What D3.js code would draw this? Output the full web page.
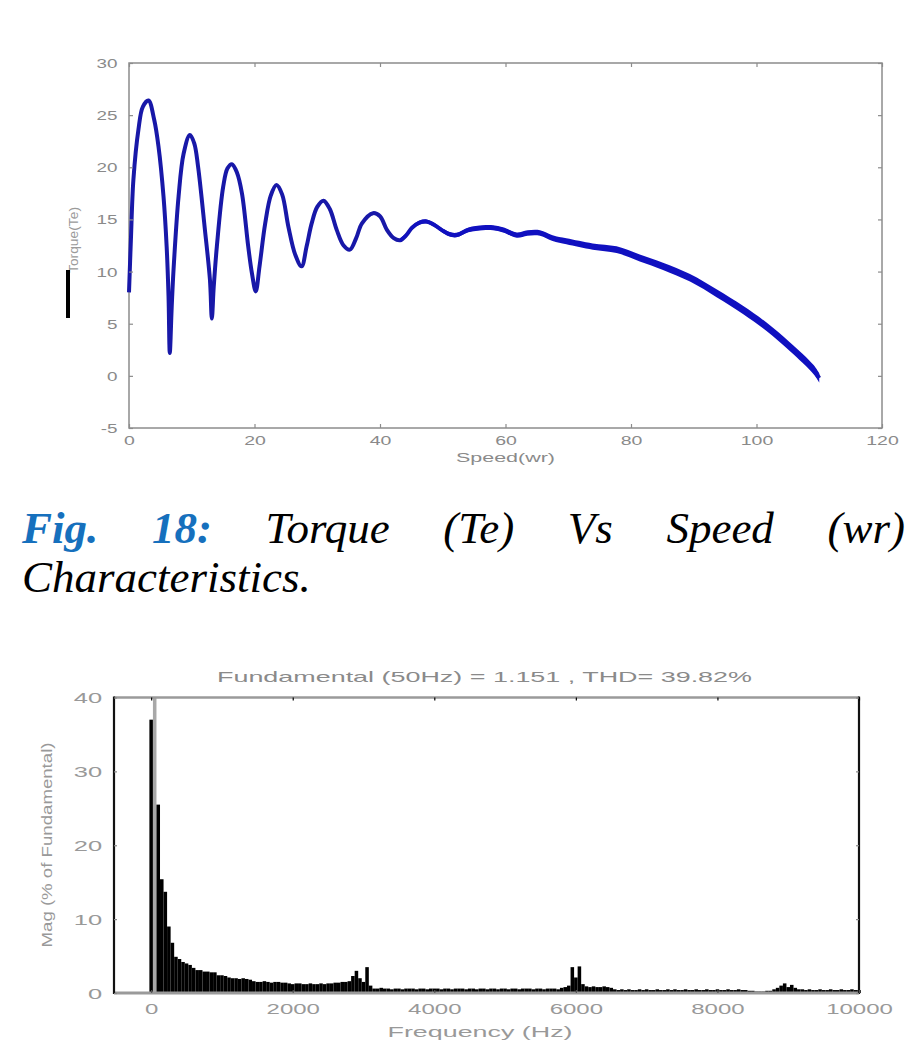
<!DOCTYPE html>
<html>
<head>
<meta charset="utf-8">
<script src="https://cdn.jsdelivr.net/npm/d3@7"></script>
<style>
  body { margin: 0; background: #fff; }
  svg text { font-family: "Liberation Sans", Arial, sans-serif; }
  svg text.cap { font-family: "Liberation Serif", "Times New Roman", serif; font-style: italic; }
</style>
</head>
<body>
<svg id="fig" width="915" height="1056"></svg>
<script>
// ---- torque vs speed ----
const speedVals = [0, 0.3, 0.7, 1.5, 2.2, 3.1, 4.0, 4.7, 5.5, 6.0, 6.3, 6.5, 6.8, 7.1, 7.9, 8.7, 9.7, 10.4,
  11.0, 12.1, 12.9, 13.2, 13.5, 14.0, 15.0, 15.7, 16.4, 17.2, 18.0, 19.0, 19.6, 20.2, 20.8, 21.7,
  22.6, 23.5, 24.4, 25.4, 26.5, 27.5, 28.3, 29.1, 30.0, 31.0, 32.0, 33.1, 34.2, 35.2, 36.2, 37.1,
  38.9, 40.0, 41.1, 42.2, 43.2, 44.2, 45.1, 46.3, 47.4, 48.6, 49.8, 51.0, 52.2, 54.1, 56.4, 58.0,
  59.6, 61.8, 63.5, 65.5, 67.5, 69.7, 73.9, 77.7, 81.4, 85.1, 89.4, 93.7, 97.9, 101.6, 105.3, 109.1, 110];
const torqueVals = [8.0, 13.0, 18.8, 23.6, 25.8, 26.4, 24.6, 22.0, 17.2, 12.4, 7.6, 2.2, 6.5, 10.2, 17.2, 21.3, 23.1, 22.3,
  20.1, 14.0, 9.2, 5.5, 8.5, 12.4, 18.1, 19.9, 20.3, 19.5, 17.5, 12.4, 9.8, 8.1, 10.5, 14.6,
  17.3, 18.3, 17.4, 14.3, 11.6, 10.5, 12.4, 14.6, 16.2, 16.8, 16.0, 14.0, 12.5, 12.1, 13.2, 14.6,
  15.6, 15.3, 14.0, 13.2, 13.0, 13.5, 14.2, 14.7, 14.8, 14.5, 14.0, 13.6, 13.5, 14.0, 14.2, 14.2,
  14.0, 13.5, 13.7, 13.7, 13.2, 12.9, 12.4, 12.1, 11.3, 10.5, 9.4, 7.9, 6.3, 4.7, 2.8, 0.6, -0.2];
const speedTicks = [0, 20, 40, 60, 80, 100, 120];
const torqueTicks = [-5, 0, 5, 10, 15, 20, 25, 30];

// ---- harmonic spectrum, one value per 50 Hz step (index = order) ----
const harmonicMag = [
  37, 100, 25.5, 15.4, 13.7, 9.0, 6.8, 4.9, 4.6, 4.2,
  4.0, 3.8, 3.4, 3.1, 3.1, 2.9, 2.9, 2.8, 2.8, 2.4,
  2.4, 2.3, 2.1, 2.0, 2.0, 1.9, 2.0, 1.9, 1.8, 1.6,
  1.5, 1.5, 1.6, 1.5, 1.4, 1.5, 1.5, 1.4, 1.4, 1.3,
  1.2, 1.3, 1.3, 1.2, 1.2, 1.3, 1.2, 1.2, 1.3, 1.2,
  1.3, 1.3, 1.4, 1.4, 1.5, 1.5, 1.6, 2.3, 3.0, 2.0,
  1.5, 3.5, 1.0, 0.6, 0.6, 0.7, 0.6, 0.6, 0.5, 0.6,
  0.6, 0.5, 0.6, 0.6, 0.6, 0.5, 0.6, 0.6, 0.5, 0.6,
  0.6, 0.6, 0.5, 0.6, 0.6, 0.5, 0.6, 0.6, 0.6, 0.5,
  0.6, 0.6, 0.5, 0.6, 0.6, 0.5, 0.6, 0.6, 0.5, 0.6,
  0.6, 0.5, 0.6, 0.6, 0.5, 0.6, 0.6, 0.6, 0.5, 0.6,
  0.6, 0.5, 0.6, 0.6, 0.6, 0.5, 0.7, 0.8, 1.0, 3.5,
  2.1, 3.6, 1.2, 0.9, 0.8, 0.9, 0.8, 0.8, 0.9, 0.8,
  0.7, 0.5, 0.4, 0.5, 0.4, 0.5, 0.4, 0.4, 0.5, 0.4,
  0.5, 0.4, 0.4, 0.5, 0.4, 0.4, 0.5, 0.4, 0.5, 0.4,
  0.4, 0.5, 0.4, 0.4, 0.5, 0.4, 0.4, 0.5, 0.4, 0.4,
  0.5, 0.4, 0.4, 0.5, 0.4, 0.4, 0.5, 0.4, 0.4, 0.3,
  0.3, 0.2, 0.2, 0.2, 0.3, 0.3, 0.5, 0.7, 1.0, 1.3,
  0.8, 1.1, 0.7, 0.5, 0.5, 0.4, 0.5, 0.4, 0.4, 0.5,
  0.4, 0.4, 0.5, 0.4, 0.4, 0.5, 0.4, 0.4, 0.5, 0.4, 0.4];
const harmonicStep = 50;
const freqTicks = [0, 2000, 4000, 6000, 8000, 10000];
const magTicks = [0, 10, 20, 30, 40];
const fftTitle = "Fundamental (50Hz) = 1.151 , THD= 39.82%";

const svg = d3.select("#fig");
const plain = d => String(d);   // plain "-5", "2000" like the source

// widen tick text (the source figure has stretched glyphs)
function stretch(sel, k) {
  sel.attr("transform", `scale(${k},1)`);
}

// ================= top chart: torque vs speed =================
const x1 = d3.scaleLinear().domain([0, 120]).range([129, 882]);
const y1 = d3.scaleLinear().domain([-5, 30]).range([428, 63]);
const topChart = svg.append("g");
const boxGrey = "#8c8c8c";
const lineBlue = "#1010c0";

topChart.append("rect")
  .attr("x", x1(0)).attr("y", y1(30))
  .attr("width", x1(120) - x1(0)).attr("height", y1(-5) - y1(30))
  .attr("fill", "none").attr("stroke", boxGrey).attr("stroke-width", 1.5);

const torquePts = speedVals.map((s, i) => ({ s: s, t: torqueVals[i] }));
const smooth = d3.curveCatmullRom.alpha(0.5);
const torqueLine = d3.line().x(d => x1(d.s)).y(d => y1(d.t)).curve(smooth);

topChart.append("path").datum(torquePts)
  .attr("d", torqueLine).attr("fill", "none")
  .attr("stroke", "#1818a8").attr("stroke-width", 4).attr("stroke-linejoin", "round");

// the noisy tail reads as a band that widens with speed
const bandHalf = s => 2 + Math.max(0, s - 45) / 65 * 2.6;
const band = d3.area().curve(smooth)
  .x(d => x1(d.s))
  .y0(d => y1(d.t) + bandHalf(d.s))
  .y1(d => y1(d.t) - bandHalf(d.s));
topChart.append("path").datum(torquePts.filter(d => d.s >= 43.2))
  .attr("d", band).attr("fill", lineBlue);

function styleAxis(g, color) {
  g.select(".domain").remove();
  g.selectAll(".tick line").attr("stroke", color).attr("stroke-width", 1.2);
  g.selectAll(".tick text").attr("fill", "#8a8a8a");
}

const ax1b = topChart.append("g").attr("transform", `translate(0,${y1(-5)})`)
  .call(d3.axisBottom(x1).tickValues(speedTicks).tickFormat(plain).tickSize(-4).tickPadding(8))
  .attr("font-size", 13);
styleAxis(ax1b, boxGrey);
stretch(ax1b.selectAll(".tick text"), 1.5);

const ax1t = topChart.append("g").attr("transform", `translate(0,${y1(30)})`)
  .call(d3.axisTop(x1).tickValues(speedTicks).tickSize(-4).tickFormat(""));
styleAxis(ax1t, boxGrey);

const ax1l = topChart.append("g").attr("transform", `translate(${x1(0)},0)`)
  .call(d3.axisLeft(y1).tickValues(torqueTicks).tickFormat(plain).tickSize(-4))
  .attr("font-size", 13);
styleAxis(ax1l, boxGrey);
ax1l.selectAll(".tick text").attr("x", -8).attr("dy", "0.35em");
stretch(ax1l.selectAll(".tick text"), 1.45);

const ax1r = topChart.append("g").attr("transform", `translate(${x1(120)},0)`)
  .call(d3.axisRight(y1).tickValues(torqueTicks).tickSize(-4).tickFormat(""));
styleAxis(ax1r, boxGrey);

topChart.append("text")
  .attr("x", (x1(0) + x1(120)) / 2).attr("y", 462)
  .attr("text-anchor", "middle").attr("font-size", 13).attr("fill", "#8a8a8a")
  .attr("textLength", 99).attr("lengthAdjust", "spacingAndGlyphs")
  .text("Speed(wr)");

topChart.append("text")
  .attr("transform", "translate(78,240) rotate(-90)")
  .attr("text-anchor", "middle").attr("font-size", 12).attr("fill", "#9a9a9a")
  .attr("textLength", 66).attr("lengthAdjust", "spacingAndGlyphs")
  .text("Torque(Te)");
topChart.append("line")
  .attr("x1", 68).attr("x2", 68).attr("y1", 270).attr("y2", 318)
  .attr("stroke", "#000").attr("stroke-width", 4);

// ================= caption =================
const capWords = ["Fig.", "18:", "Torque", "(Te)", "Vs", "Speed", "(wr)"];
const capBlue = 2;   // first two words are the blue figure number
const capLine2 = "Characteristics.";
const cap = svg.append("g");

const capLeft = 22, capRight = 905, capY1 = 543, capY2 = 592, capSize = 45;
const wordEls = capWords.map((w, i) => cap.append("text")
  .attr("class", "cap")
  .attr("y", capY1)
  .attr("font-size", capSize)
  .attr("fill", i < capBlue ? "#1670bd" : "#000")
  .attr("font-weight", i < capBlue ? "bold" : "normal")
  .text(w));
const widths = wordEls.map(el => el.node().getComputedTextLength());
const gap = (capRight - capLeft - d3.sum(widths)) / (capWords.length - 1);
let cx = capLeft;
wordEls.forEach((el, i) => {
  el.attr("x", cx);
  cx += widths[i] + gap;
});
cap.append("text").attr("class", "cap").attr("x", capLeft).attr("y", capY2)
  .attr("font-size", capSize)
  .text(capLine2);

// ================= bottom chart: FFT spectrum =================
const x2 = d3.scaleLinear().domain([-525, 10000]).range([114, 859]);
const y2 = d3.scaleLinear().domain([0, 40]).range([993, 697.5]).clamp(true);
const bot = svg.append("g");
const barW = (x2(harmonicStep) - x2(0)) * 1.0;

bot.append("g").selectAll("rect")
  .data(harmonicMag)
  .join("rect")
  .attr("x", (d, i) => x2(i * harmonicStep) - barW / 2)
  .attr("y", d => y2(d))
  .attr("width", barW)
  .attr("height", d => y2(0) - y2(d))
  .attr("fill", d => d > 40 ? "#a8a8a8" : "#000");

// frame: grey top/bottom, black left/right
bot.append("line").attr("x1", x2.range()[0]).attr("x2", x2.range()[1])
  .attr("y1", y2(40)).attr("y2", y2(40)).attr("stroke", "#9a9a9a").attr("stroke-width", 2.5);
bot.append("line").attr("x1", x2.range()[0]).attr("x2", x2.range()[1])
  .attr("y1", y2(0)).attr("y2", y2(0)).attr("stroke", "#9a9a9a").attr("stroke-width", 3);
bot.append("line").attr("x1", x2.range()[0]).attr("x2", x2.range()[0])
  .attr("y1", y2(40) - 1).attr("y2", y2(0) + 1).attr("stroke", "#111").attr("stroke-width", 2.2);
bot.append("line").attr("x1", x2.range()[1]).attr("x2", x2.range()[1])
  .attr("y1", y2(40) - 1).attr("y2", y2(0) + 1).attr("stroke", "#111").attr("stroke-width", 2.2);

const ax2b = bot.append("g").attr("transform", `translate(0,${y2(0)})`)
  .call(d3.axisBottom(x2).tickValues(freqTicks).tickFormat(plain).tickSize(-3).tickPadding(10))
  .attr("font-size", 15);
styleAxis(ax2b, "#555");
ax2b.selectAll(".tick text").attr("fill", "#999");
stretch(ax2b.selectAll(".tick text"), 1.6);

const ax2t = bot.append("g").attr("transform", `translate(0,${y2(40)})`)
  .call(d3.axisTop(x2).tickValues(freqTicks).tickSize(-3).tickFormat(""));
styleAxis(ax2t, "#000");

const ax2l = bot.append("g").attr("transform", `translate(${x2.range()[0]},0)`)
  .call(d3.axisLeft(y2).tickValues(magTicks).tickFormat(plain).tickSize(-3))
  .attr("font-size", 15);
styleAxis(ax2l, "#888");
ax2l.selectAll(".tick text").attr("x", -7).attr("dy", "0.35em").attr("fill", "#999");
stretch(ax2l.selectAll(".tick text"), 1.7);

const ax2r = bot.append("g").attr("transform", `translate(${x2.range()[1]},0)`)
  .call(d3.axisRight(y2).tickValues(magTicks).tickSize(-3).tickFormat(""));
styleAxis(ax2r, "#888");

bot.append("text")
  .attr("x", 484.5).attr("y", 682)
  .attr("text-anchor", "middle").attr("font-size", 15).attr("fill", "#8a8a8a")
  .attr("textLength", 535).attr("lengthAdjust", "spacingAndGlyphs")
  .text(fftTitle);

bot.append("text")
  .attr("x", 480).attr("y", 1037)
  .attr("text-anchor", "middle").attr("font-size", 15).attr("fill", "#999")
  .attr("textLength", 185).attr("lengthAdjust", "spacingAndGlyphs")
  .text("Frequency (Hz)");

bot.append("text")
  .attr("transform", "translate(52,845) rotate(-90)")
  .attr("text-anchor", "middle").attr("font-size", 15).attr("fill", "#999")
  .attr("textLength", 205).attr("lengthAdjust", "spacingAndGlyphs")
  .text("Mag (% of Fundamental)");
</script>
</body>
</html>
